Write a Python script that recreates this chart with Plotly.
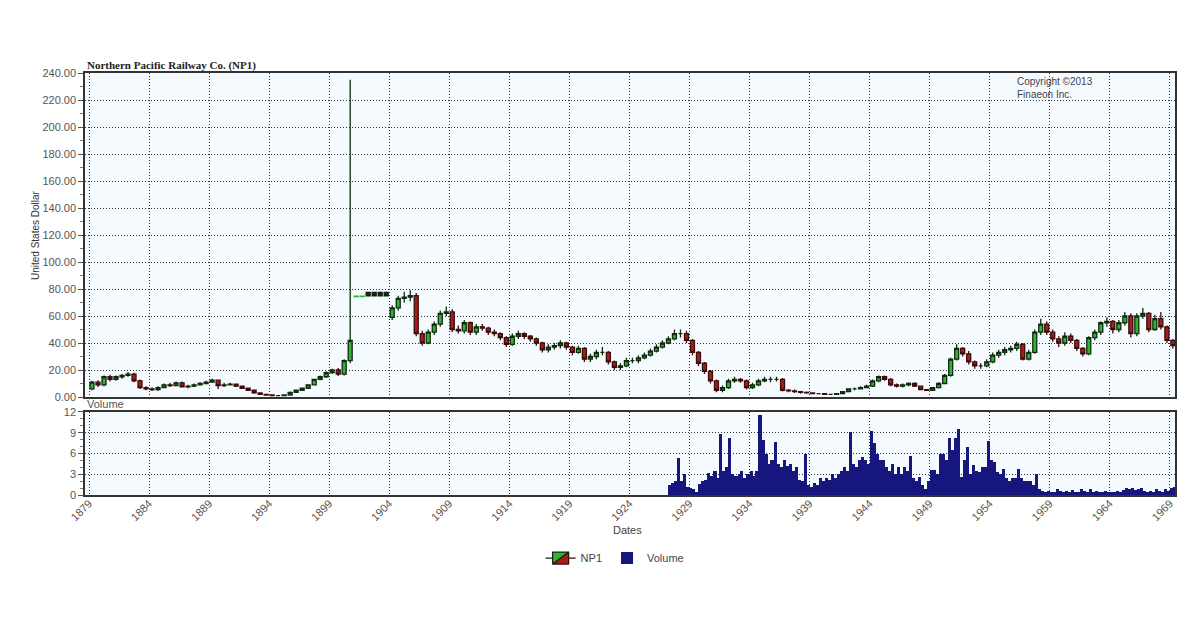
import plotly.graph_objects as go
import pandas as pd

TITLE = "Northern Pacific Railway Co. (NP1)"

# ---- Price data: half-year price levels (candle i runs from level i to level i+1) ----
# Segment 1: 1879.0 ... 1901.0
seg1_start = "1879-01-01"
seg1_levels = [6, 11, 9, 15, 13, 15, 16, 17, 12, 7, 6, 5.5, 7, 9, 8.5, 10.5, 7.5, 8, 9, 10,
               11, 12.5, 8.5, 9, 9.5, 8, 6.5, 5, 3, 2, 1.5, 1, 1, 1.5, 3.5, 5, 6.5, 9, 13, 15,
               18, 20, 17, 27, 42]
seg1_high = [12, 12.5, 16, 16.5, 16, 17, 18.5, 18, 13, 8, 7, 8, 10, 10.5, 11.5, 11.5, 9, 10, 11, 12,
             13.5, 13, 10.5, 10.5, 10, 8.5, 7, 5.5, 3.5, 2.5, 2, 1.5, 2, 4, 5.5, 7, 9.5, 13.5, 16, 19,
             21, 21.5, 28, 235]
seg1_low = [5, 7.5, 8, 11.5, 12, 13.5, 15, 11, 6, 5, 4.5, 4.5, 6.5, 7.5, 8, 7, 6.5, 7.5, 8.5, 9.5,
            10.5, 6, 7.5, 8.5, 7.5, 6, 4.5, 2.5, 1.5, 1, 0.5, 0.5, 0.5, 1, 3, 4.5, 6, 8.5, 12.5, 14,
            17, 15.5, 16, 25]

# Segment 2: thin quotes 1901-1904
seg2a_start = "1901-01-01"
seg2a_open = [74.3, 74.3]
seg2a_close = [74.8, 74.8]
seg2a_high = [74.8, 74.8]
seg2a_low = [74.3, 74.3]
seg2b_start = "1902-01-01"
seg2b_open = [75, 77.5, 75, 77.5]
seg2b_close = [77.5, 75, 77.5, 75]
seg2b_high = [78, 78, 78, 78]
seg2b_low = [74.5, 74.5, 74.5, 74.5]

# Segment 3: 1904.0 ... 1969.5
seg3_start = "1904-01-01"
seg3_levels = [59, 66, 73, 74, 75, 47, 40, 48, 54, 62, 63, 50, 49, 55, 48, 52, 51, 48, 47, 44,
               39, 45, 47, 45, 43, 40, 35, 37, 38, 40, 37, 33, 36, 28, 30, 33,
               33, 26, 22, 23, 27, 27, 29, 31, 34, 37, 40, 43, 47, 47, 42, 33, 25, 19, 12, 5,
               7, 12, 13, 12, 7, 9, 12, 13, 13, 13, 5, 4.5, 4, 3.5, 3, 2.5, 2.5, 2, 2, 2.5,
               4, 6, 6, 7, 8, 12, 15, 13, 9,
               8, 9, 10, 8, 5.5, 5, 7, 10, 16, 28, 36, 32, 26, 23, 23, 26, 31, 33, 35, 36,
               39, 28, 33, 48, 54, 48, 43, 40, 45, 42, 36, 32, 44, 48, 55, 56, 50, 55, 60, 47,
               60, 62, 50, 58, 52, 42, 38]
seg3_high = [68, 75, 78, 79, 77, 49, 50, 56, 64, 67, 65, 53, 57, 56, 54, 54, 52, 50, 48, 45,
             47, 49, 48, 46, 44, 41, 39, 40, 42, 41, 38, 38, 37, 32, 35, 37, 34, 27, 25, 29,
             29, 31, 33, 36, 39, 42, 45, 50, 50, 49, 43, 34, 26, 20, 13, 8.5, 13.5, 15, 14, 13,
             10.5, 13.5, 15, 15, 15, 14, 6, 5.5, 4.5, 4, 3.5, 3, 3, 2.5, 3, 4.5, 6.5, 7, 8, 9,
             13, 16, 16, 14, 10, 10, 11, 11, 8.5, 6, 7.5, 11, 17, 29, 39, 37, 34, 27, 25, 28,
             33, 35, 37, 38, 41, 40, 35, 50, 58, 56, 50, 45, 48, 47, 43, 37, 45, 50, 56, 59,
             57, 57, 63, 62, 62, 66, 63, 61, 63, 53, 43]
seg3_low = [57, 64, 70, 71, 45, 38, 39, 46, 52, 60, 48, 47, 47, 46, 46, 49, 46, 45, 42, 37,
            38, 43, 43, 41, 38, 33, 33, 35, 36, 35, 31, 32, 26, 26, 28, 31, 24, 20, 20, 22,
            25, 25, 28, 30, 33, 36, 39, 42, 44, 40, 31, 23, 17, 10, 3.5, 3.5, 6, 10.5, 10.5, 5.5,
            6, 8, 11, 11, 11.5, 4, 3.5, 3, 2.5, 2.5, 2, 2, 1.5, 1.5, 1.5, 2, 3.5, 5, 5.5, 6.5,
            7.5, 11, 12, 8, 7, 7, 8, 7.5, 5, 4.5, 4.5, 6.5, 9.5, 15, 27, 30, 24, 21, 21, 22,
            25, 29, 31, 33, 34, 27, 27, 32, 46, 46, 41, 37, 38, 40, 34, 30, 31, 42, 46, 52,
            47, 48, 53, 44, 45, 58, 48, 49, 50, 40, 36]

# ---- Volume (millions), quarterly from 1927 Q2 ----
vol_start = "1927-04-01"
volume = [1.5, 1.8, 2.0,
          5.4, 2.0, 3.0, 1.2,
          1.0, 0.8, 0.4, 1.6,
          2.0, 2.2, 3.2, 2.8,
          3.4, 2.5, 8.8, 3.5,
          4.0, 8.2, 3.0, 2.8,
          3.0, 3.4, 2.5, 3.0,
          3.5, 2.8, 3.4, 11.6,
          8.0, 6.0, 4.5, 5.0,
          7.6, 4.5, 4.0, 5.0,
          4.2, 4.5, 3.5, 4.0,
          2.2, 2.0, 5.9, 1.5,
          1.2, 1.8, 1.5, 2.5,
          2.0, 2.5, 2.2, 3.0,
          2.5, 3.0, 3.5, 4.0,
          3.5, 9.1, 4.5, 4.0,
          5.0, 5.5, 5.0, 4.5,
          9.3, 7.5, 6.0, 5.0,
          5.0, 4.0, 3.5, 4.5,
          3.0, 4.0, 3.0, 4.0,
          3.5, 5.7, 2.5, 2.0,
          2.6, 1.5, 0.9, 2.0,
          3.6, 3.6, 3.0, 6.0,
          6.0, 5.0, 8.3, 6.5,
          8.2, 9.5, 2.6, 5.0,
          7.0, 3.0, 4.3, 3.5,
          3.3, 4.0, 4.0, 7.8,
          5.0, 4.8, 3.3, 3.0,
          3.8, 2.5, 2.0, 2.5,
          2.5, 3.8, 2.5, 2.0,
          2.0, 2.0, 1.5, 3.0,
          0.9, 0.6, 0.5, 0.6,
          0.5, 0.5, 0.8, 0.6,
          0.5, 0.6, 0.5, 0.7,
          0.5, 0.5, 0.9, 0.6,
          0.5, 0.8, 0.5, 0.6,
          0.5, 0.5, 0.6, 0.4,
          0.5, 0.5, 0.6, 0.5,
          0.7, 1.0, 0.8, 1.0,
          0.7, 0.8, 1.0, 0.6,
          0.5, 0.6, 0.5, 0.8,
          0.6, 0.5, 0.9, 0.6,
          1.0, 1.2]

tick_years = list(range(1879, 1970, 5))
price_ticks = list(range(0, 241, 20))
volume_ticks = [0, 3, 6, 9, 12]

# ---- styles ----
INC_FILL, INC_LINE = "#2fb52f", "#102a10"
DEC_FILL, DEC_LINE = "#a81c1c", "#3a0c0c"
VOL_COLOR = "#16167e"
GRID = "#333333"
GRID_DASH = "1px,2px"
AXIS_FONT = dict(family="Arial, Liberation Sans, sans-serif", size=11, color="#555555")


def half_year_centers(start, n):
    return pd.date_range(start, periods=n, freq="6MS") + pd.DateOffset(months=3)


fig = go.Figure()


def add_candles(x, o, h, l, c, inc=(INC_FILL, INC_LINE), dec=(DEC_FILL, DEC_LINE), show=False):
    fig.add_trace(go.Candlestick(
        x=x, open=o, high=h, low=l, close=c, name="NP1", legendgroup="np1", showlegend=show,
        increasing=dict(fillcolor=inc[0], line=dict(color=inc[1], width=1.3)),
        decreasing=dict(fillcolor=dec[0], line=dict(color=dec[1], width=1.3)),
        whiskerwidth=0, xaxis="x", yaxis="y"))


x1 = half_year_centers(seg1_start, len(seg1_levels) - 1)
add_candles(x1, seg1_levels[:-1], seg1_high, seg1_low, seg1_levels[1:], show=True)
add_candles(half_year_centers(seg2a_start, len(seg2a_open)), seg2a_open, seg2a_high, seg2a_low,
            seg2a_close, inc=("#2fb52f", "#2fb52f"), dec=("#2fb52f", "#2fb52f"))
add_candles(half_year_centers(seg2b_start, len(seg2b_open)), seg2b_open, seg2b_high, seg2b_low,
            seg2b_close, inc=("#1d3a1d", "#0d1f0d"), dec=("#1d3a1d", "#0d1f0d"))
x3 = half_year_centers(seg3_start, len(seg3_levels) - 1)
add_candles(x3, seg3_levels[:-1], seg3_high, seg3_low, seg3_levels[1:])

vx = pd.date_range(vol_start, periods=len(volume), freq="3MS") + pd.Timedelta(days=45)
fig.add_trace(go.Bar(x=vx, y=volume, name="Volume", marker=dict(color=VOL_COLOR, line=dict(width=0)),
                     width=92 * 86400000, xaxis="x2", yaxis="y2"))

xrange = ["1878-09-01", "1969-06-05"]
tickvals = [f"{yr}-01-01" for yr in tick_years]
ticktext = [str(yr) for yr in tick_years]

common_x = dict(type="date", range=xrange, tickvals=tickvals, showgrid=True, gridcolor=GRID,
                griddash=GRID_DASH, gridwidth=1, showline=True, linecolor="#333333", linewidth=1.5,
                mirror=True, zeroline=False, fixedrange=True)

fig.update_layout(
    width=1200, height=630,
    margin=dict(l=85, r=25, t=73, b=135),
    paper_bgcolor="white", plot_bgcolor="#f5fafe",
    font=AXIS_FONT,
    bargap=0,
    boxgap=0.05,
    xaxis=dict(**common_x, anchor="y", showticklabels=False, ticks="",
               rangeslider=dict(visible=False)),
    xaxis2=dict(**common_x, anchor="y2", matches="x", ticktext=ticktext, ticks="",
                tickangle=-45, tickfont=AXIS_FONT, ticklabelstandoff=-4),
    yaxis=dict(domain=[0.2322, 1.0], range=[0, 240], tickvals=price_ticks, tickformat=".2f",
               ticks="outside", ticklen=5, tickcolor="#555555", showgrid=True, gridcolor=GRID,
               griddash=GRID_DASH, showline=True, linecolor="#333333", linewidth=1.5, mirror=True,
               zeroline=False, tickfont=AXIS_FONT,
               minor=dict(dtick=10, ticks="outside", ticklen=3, tickcolor="#777777", showgrid=False)),
    yaxis2=dict(domain=[0.0, 0.1967], range=[0, 12], tickvals=volume_ticks, ticks="outside",
                ticklen=5, tickcolor="#555555", showgrid=True, gridcolor=GRID, griddash=GRID_DASH,
                showline=True, linecolor="#333333", linewidth=1.5, mirror=True, zeroline=False,
                tickfont=AXIS_FONT,
                minor=dict(dtick=1, ticks="outside", ticklen=3, tickcolor="#777777", showgrid=False)),
    legend=dict(orientation="h", x=0.418, xanchor="left", y=-0.115, yanchor="top",
                font=dict(family="Arial, Liberation Sans, sans-serif", size=11, color="#444444"),
                itemwidth=30),
    showlegend=True,
)

fig.add_annotation(text=f"<b>{TITLE}</b>", xref="paper", yref="paper", x=0.0, y=1.0166,
                   xanchor="left", yanchor="middle", showarrow=False,
                   font=dict(family="Liberation Serif, Times New Roman, serif", size=11, color="#222222"))
fig.add_annotation(text="United States Dollar", xref="paper", yref="paper", x=-0.0459, y=0.616,
                   xanchor="center", yanchor="middle", textangle=-90, showarrow=False,
                   font=dict(family="Arial, Liberation Sans, sans-serif", size=10, color="#333333"))
fig.add_annotation(text="Volume", xref="paper", yref="paper", x=0.0, y=0.215,
                   xanchor="left", yanchor="middle", showarrow=False,
                   font=dict(family="Arial, Liberation Sans, sans-serif", size=11, color="#555555"))
fig.add_annotation(text="Copyright ©2013<br>Finaeon Inc.", xref="paper", yref="paper", x=0.853,
                   y=0.997, xanchor="left", yanchor="top", align="left", showarrow=False,
                   font=dict(family="Arial, Liberation Sans, sans-serif", size=10, color="#444444"))
fig.add_annotation(text="Dates", xref="paper", yref="paper", x=0.498, y=-0.083,
                   xanchor="center", yanchor="middle", showarrow=False,
                   font=dict(family="Arial, Liberation Sans, sans-serif", size=11, color="#444444"))

fig.write_html("out.html")
